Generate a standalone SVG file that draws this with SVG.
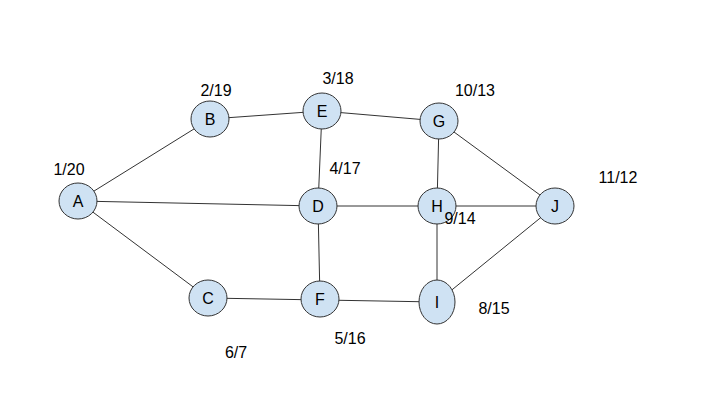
<svg xmlns="http://www.w3.org/2000/svg" width="718" height="410" viewBox="0 0 718 410">
<style>
.n{fill:#cfe2f3;stroke:#333;stroke-width:1}
.t{font-family:"Liberation Sans",Arial,sans-serif;font-size:16px;fill:#000}
.c{text-anchor:middle}
line{stroke:#333;stroke-width:1}
</style>
<rect width="718" height="410" fill="#fff"/>
<g id="connectors">
<line x1="78" y1="201" x2="210" y2="119"/>
<line x1="78" y1="201" x2="318" y2="206"/>
<line x1="78" y1="201" x2="208" y2="298"/>
<line x1="210" y1="119" x2="322" y2="111"/>
<line x1="322" y1="111" x2="439" y2="121"/>
<line x1="322" y1="111" x2="318" y2="206"/>
<line x1="439" y1="121" x2="437" y2="206"/>
<line x1="439" y1="121" x2="555" y2="206"/>
<line x1="318" y1="206" x2="555" y2="206"/>
<line x1="318" y1="206" x2="320" y2="299"/>
<line x1="208" y1="298" x2="437" y2="302"/>
<line x1="437" y1="206" x2="437" y2="302"/>
<line x1="437" y1="302" x2="555" y2="206"/>
</g>
<g id="A"><ellipse class="n" cx="78" cy="201" rx="19" ry="18"/><text class="t c" x="78" y="207">A</text></g>
<g id="B"><ellipse class="n" cx="210" cy="119" rx="19" ry="18"/><text class="t c" x="210" y="125">B</text></g>
<g id="E"><ellipse class="n" cx="322" cy="111" rx="19" ry="18"/><text class="t c" x="322" y="117">E</text></g>
<g id="G"><ellipse class="n" cx="439" cy="121" rx="19" ry="18"/><text class="t c" x="439" y="127">G</text></g>
<g id="D"><ellipse class="n" cx="318" cy="206" rx="19" ry="18"/><text class="t c" x="318" y="212">D</text></g>
<g id="H"><ellipse class="n" cx="437" cy="206" rx="19" ry="18"/><text class="t c" x="437" y="212">H</text></g>
<g id="J"><ellipse class="n" cx="555" cy="206" rx="19" ry="18"/><text class="t c" x="555" y="212">J</text></g>
<g id="C"><ellipse class="n" cx="208" cy="298" rx="19" ry="18"/><text class="t c" x="208" y="304">C</text></g>
<g id="F"><ellipse class="n" cx="320" cy="299" rx="19" ry="18"/><text class="t c" x="320" y="305">F</text></g>
<g id="I"><ellipse class="n" cx="437" cy="302" rx="18" ry="22"/><text class="t c" x="437" y="308">I</text></g>
<g id="labels">
<text class="t c" x="69" y="175">1/20</text>
<text class="t c" x="216" y="96">2/19</text>
<text class="t c" x="338" y="84">3/18</text>
<text class="t c" x="475" y="96">10/13</text>
<text class="t c" x="345" y="174">4/17</text>
<text class="t c" x="618" y="183">11/12</text>
<text class="t c" x="460" y="224">9/14</text>
<text class="t c" x="494" y="314">8/15</text>
<text class="t c" x="236" y="358">6/7</text>
<text class="t c" x="350" y="344">5/16</text>
</g>
</svg>
